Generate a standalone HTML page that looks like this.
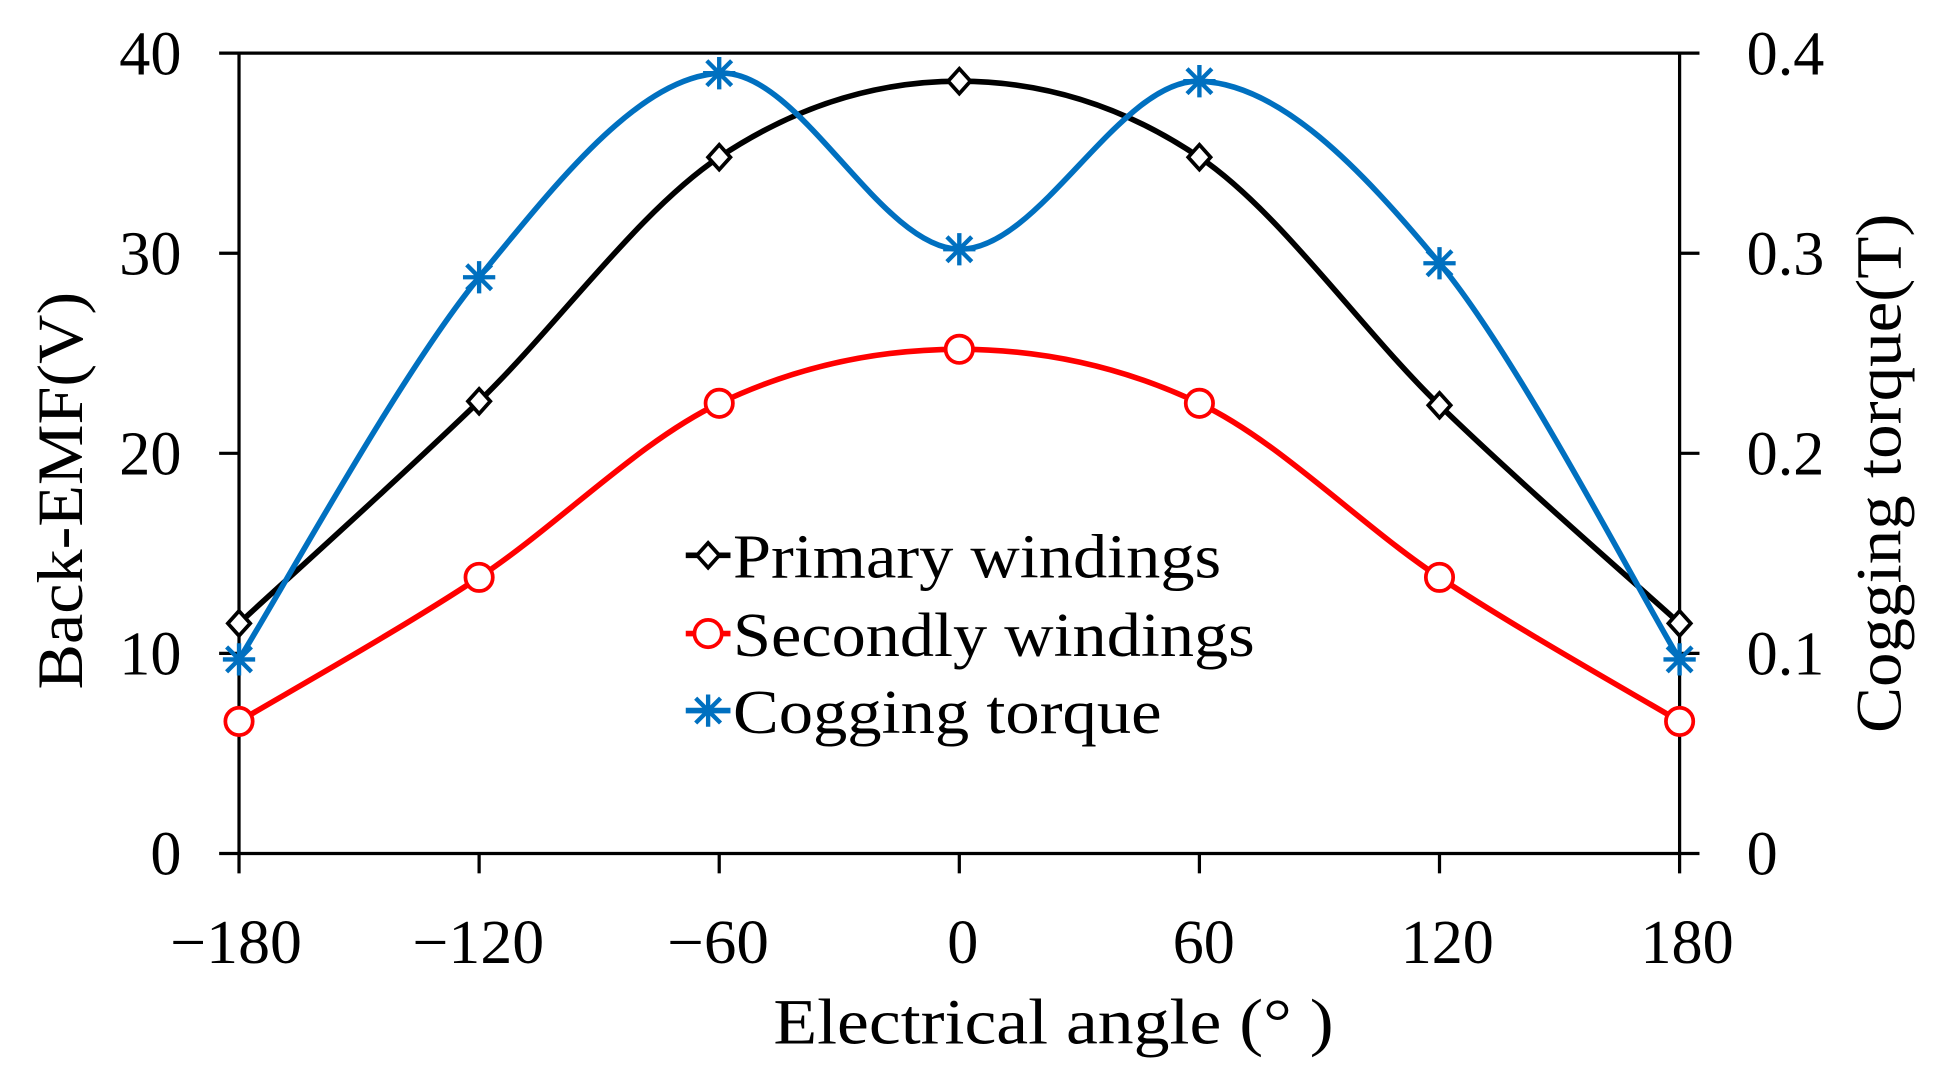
<!DOCTYPE html>
<html><head><meta charset="utf-8"><style>
html,body{margin:0;padding:0;background:#fff;}
svg{display:block;font-family:"Liberation Serif",serif;}
</style></head><body>
<svg id="s" width="1938" height="1080" viewBox="0 0 1560 869.35" preserveAspectRatio="none" xmlns="http://www.w3.org/2000/svg">
<g id="axes" stroke="#000" stroke-width="2.6" fill="none"></g>
<g font-size="50" fill="#000" text-anchor="end">
<text x="146" y="60">40</text><text x="146" y="221">30</text><text x="146" y="382">20</text><text x="146" y="543">10</text><text x="146" y="704">0</text>
</g>
<g font-size="50" fill="#000">
<text x="1406" y="60">0.4</text><text x="1406" y="221">0.3</text><text x="1406" y="382">0.2</text><text x="1406" y="543">0.1</text><text x="1406" y="704">0</text>
</g>
<g font-size="50" fill="#000" text-anchor="middle">
<text x="190" y="775" textLength="106" lengthAdjust="spacingAndGlyphs">−180</text>
<text x="385" y="775" textLength="106" lengthAdjust="spacingAndGlyphs">−120</text>
<text x="578" y="775" textLength="82" lengthAdjust="spacingAndGlyphs">−60</text>
<text x="775" y="775">0</text><text x="969" y="775">60</text><text x="1165" y="775">120</text><text x="1358" y="775">180</text>
<text x="848" y="840" font-size="52" textLength="451" lengthAdjust="spacingAndGlyphs">Electrical angle (°   )</text>
<text transform="translate(66,395) rotate(-90)" font-size="52" textLength="320" lengthAdjust="spacingAndGlyphs">Back-EMF(V)</text>
<text transform="translate(1530,381) rotate(-90)" font-size="52" textLength="418" lengthAdjust="spacingAndGlyphs">Cogging torque(T)</text>
</g>
<g id="series"></g>
<g font-size="50" fill="#000">
<text x="590" y="465" textLength="393" lengthAdjust="spacingAndGlyphs">Primary windings</text>
<text x="590" y="528" textLength="420" lengthAdjust="spacingAndGlyphs">Secondly windings</text>
<text x="590" y="590" textLength="345" lengthAdjust="spacingAndGlyphs">Cogging torque</text>
</g>
</svg>
<script>
var L=192.4,R=1352,T=42.8,B=687;
var X=[],i;for(i=0;i<7;i++)X.push(L+(R-L)*i/6);
function Y(v){return B-v*(B-T)/40;}
var ns="http://www.w3.org/2000/svg";
function mk(g,t,a){var e=document.createElementNS(ns,t);for(var k in a)e.setAttribute(k,a[k]);g.appendChild(e);return e;}
var ax=document.getElementById("axes");
function ln(x1,y1,x2,y2){mk(ax,"line",{x1:x1,y1:y1,x2:x2,y2:y2});}
ln(L-16,T,R+16,T);ln(L-16,B,R+16,B);ln(L,T,L,B+16);ln(R,T,R,B+16);
for(i=1;i<4;i++){var y=Y(i*10);ln(L-16,y,L,y);ln(R,y,R+16,y);}
for(i=1;i<6;i++)ln(X[i],B,X[i],B+16);
var S=[
 {c:"#000",d:[11.5,22.6,34.8,38.6,34.8,22.4,11.5],m:"d",ly:447},
 {c:"#ff0000",d:[6.6,13.8,22.5,25.2,22.5,13.8,6.6],m:"o",ly:510},
 {c:"#0070c0",d:[9.7,28.8,39.0,30.2,38.6,29.5,9.7],m:"x",ly:572}
];
var g=document.getElementById("series");
function marker(m,x,y,c){
 if(m=="d")mk(g,"path",{d:"M"+x+" "+(y-10)+"L"+(x+9)+" "+y+"L"+x+" "+(y+10)+"L"+(x-9)+" "+y+"Z",fill:"#fff",stroke:c,"stroke-width":3});
 else if(m=="o")mk(g,"circle",{cx:x,cy:y,r:11,fill:"#fff",stroke:c,"stroke-width":3});
 else{var r=10;mk(g,"path",{d:"M"+(x-r)+" "+(y-r)+"L"+(x+r)+" "+(y+r)+"M"+(x-r)+" "+(y+r)+"L"+(x+r)+" "+(y-r)+"M"+x+" "+(y-13)+"L"+x+" "+(y+13)+"M"+(x-13)+" "+y+"L"+(x+13)+" "+y,stroke:c,"stroke-width":3.5,fill:"none"});}
}
S.forEach(function(s){
 var p=s.d.map(function(v,i){return [X[i],Y(v)];});
 var d="M"+p[0][0]+" "+p[0][1];
 for(var i=0;i<p.length-1;i++){
  var p0=p[Math.max(i-1,0)],p1=p[i],p2=p[i+1],p3=p[Math.min(i+2,p.length-1)];
  var t=1/6;
  d+="C"+(p1[0]+(p2[0]-p0[0])*t)+" "+(p1[1]+(p2[1]-p0[1])*t)+" "+(p2[0]-(p3[0]-p1[0])*t)+" "+(p2[1]-(p3[1]-p1[1])*t)+" "+p2[0]+" "+p2[1];
 }
 mk(g,"path",{d:d,fill:"none",stroke:s.c,"stroke-width":4.5});
 p.forEach(function(q){marker(s.m,q[0],q[1],s.c);});
 mk(g,"line",{x1:552,y1:s.ly,x2:588,y2:s.ly,stroke:s.c,"stroke-width":4.5});
 marker(s.m,570,s.ly,s.c);
});
</script>
</body></html>
